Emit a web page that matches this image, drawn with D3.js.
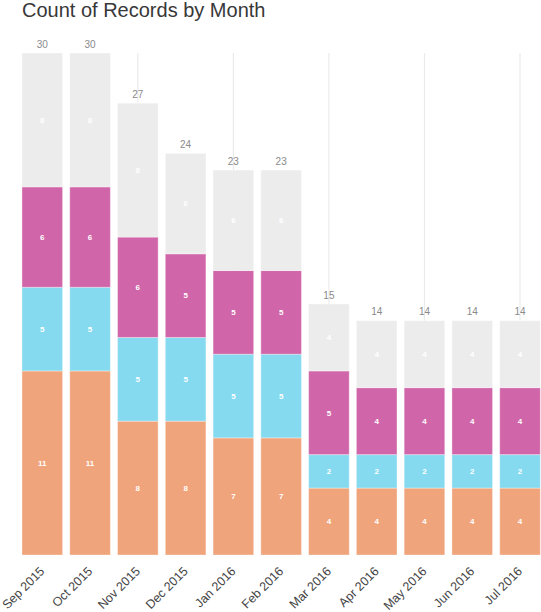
<!DOCTYPE html>
<html>
<head>
<meta charset="utf-8">
<title>Count of Records by Month</title>
<script src="https://d3js.org/d3.v7.min.js"></script>
<style>
  body { margin: 0; background: #fff; }
  svg { display: block; font-family: "Liberation Sans", Helvetica, Arial, sans-serif; }
</style>
</head>
<body>
<svg width="541" height="612"></svg>
<script>
// chart data
const months = ["Sep 2015", "Oct 2015", "Nov 2015", "Dec 2015", "Jan 2016", "Feb 2016",
                "Mar 2016", "Apr 2016", "May 2016", "Jun 2016", "Jul 2016"];
const seriesNames = ["orange", "cyan", "magenta", "gray"];   // bottom to top
const orangeVals  = [11, 11, 8, 8, 7, 7, 4, 4, 4, 4, 4];
const cyanVals    = [5, 5, 5, 5, 5, 5, 2, 2, 2, 2, 2];
const magentaVals = [6, 6, 6, 5, 5, 5, 5, 4, 4, 4, 4];
const grayVals    = [8, 8, 8, 6, 6, 6, 4, 4, 4, 4, 4];
const gridMonths  = ["Sep 2015", "Nov 2015", "Jan 2016", "Mar 2016", "May 2016", "Jul 2016"];

const colors = { orange: "#f0a47b", cyan: "#86daf0", magenta: "#d066a9", gray: "#ececec" };

const svg = d3.select("svg");

// build the table d3.stack wants
const rows = months.map((m, i) => ({
  month: m,
  orange: orangeVals[i],
  cyan: cyanVals[i],
  magenta: magentaVals[i],
  gray: grayVals[i]
}));
const stacked = d3.stack().keys(seriesNames)(rows);

const x = d3.scaleBand()
  .domain(months)
  .range([18.4, 543.9])
  .paddingInner(0.15)
  .paddingOuter(0.075);

const y = d3.scaleLinear()
  .domain([0, 30])
  .range([555, 53]);

// title
svg.append("text")
  .attr("x", 22)
  .attr("y", 17)
  .attr("fill", "#383838")
  .style("font-size", "20px")
  .text("Count of Records by Month");

// vertical gridlines
svg.append("g")
  .selectAll("line")
  .data(gridMonths)
  .join("line")
    .attr("x1", d => x(d) + x.bandwidth() / 2)
    .attr("x2", d => x(d) + x.bandwidth() / 2)
    .attr("y1", y(30))
    .attr("y2", y(0))
    .attr("stroke", "#ebebeb")
    .attr("stroke-width", 1.2);

// stacked bars
const layer = svg.append("g")
  .selectAll("g")
  .data(stacked)
  .join("g")
    .attr("fill", d => colors[d.key]);

layer.selectAll("rect")
  .data(d => d)
  .join("rect")
    .attr("x", d => x(d.data.month))
    .attr("y", d => y(d[1]))
    .attr("width", x.bandwidth())
    .attr("height", d => y(d[0]) - y(d[1]))
    .attr("stroke", "#fff")
    .attr("stroke-opacity", 0.35)
    .attr("stroke-width", 1);

// segment labels
layer.selectAll("text")
  .data(d => d)
  .join("text")
    .attr("x", d => x(d.data.month) + x.bandwidth() / 2)
    .attr("y", d => (y(d[0]) + y(d[1])) / 2)
    .attr("dy", "0.35em")
    .attr("text-anchor", "middle")
    .attr("fill", "#fff")
    .style("font-size", "8px")
    .style("font-weight", "bold")
    .text(d => d[1] - d[0]);

// totals above each bar
const topLayer = stacked[stacked.length - 1];
svg.append("g")
  .selectAll("text")
  .data(topLayer)
  .join("text")
    .attr("x", d => x(d.data.month) + x.bandwidth() / 2)
    .attr("y", d => y(d[1]) - 5.5)
    .attr("text-anchor", "middle")
    .attr("fill", "#8a8a8a")
    .style("font-size", "10px")
    .text(d => d[1]);

// x axis
const xAxis = svg.append("g")
  .attr("transform", `translate(0,${y(0)})`)
  .call(d3.axisBottom(x).tickSize(0));
xAxis.select(".domain").remove();
xAxis.selectAll("text")
  .attr("fill", "#444")
  .style("font-size", "12.5px")
  .style("font-family", "Liberation Sans, Helvetica, Arial, sans-serif")
  .attr("text-anchor", "end")
  .attr("y", 0)
  .attr("dy", 0)
  .attr("transform", "translate(3,17) rotate(-45)");
</script>
</body>
</html>
